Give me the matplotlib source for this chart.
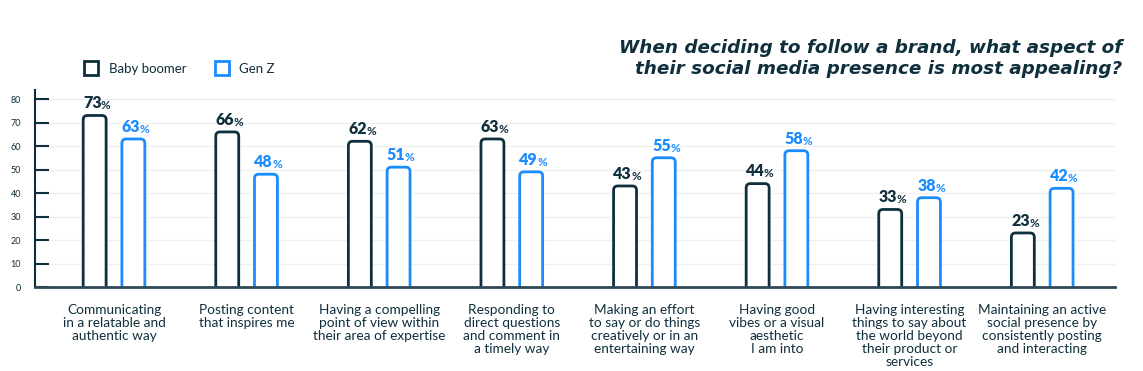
import matplotlib.pyplot as plt
from matplotlib.patches import FancyBboxPatch
from matplotlib.lines import Line2D
import numpy as np

categories = [
    'Communicating\nin a relatable and\nauthentic way',
    'Posting content\nthat inspires me',
    'Having a compelling\npoint of view within\ntheir area of expertise',
    'Responding to\ndirect questions\nand comment in\na timely way',
    'Making an effort\nto say or do things\ncreatively or in an\nentertaining way',
    'Having good\nvibes or a visual\naesthetic\nI am into',
    'Having interesting\nthings to say about\nthe world beyond\ntheir product or\nservices',
    'Maintaining an active\nsocial presence by\nconsistently posting\nand interacting',
]
baby_boomer = [73, 66, 62, 63, 43, 44, 33, 23]
gen_z = [63, 48, 51, 49, 55, 58, 38, 42]
series_names = ['Baby boomer', 'Gen Z']

navy = '#0f2f3d'
blue = '#1a8cff'
plt.rcParams['font.family'] = ['Lato', 'DejaVu Sans']

fig = plt.figure(figsize=(11.43, 3.71), dpi=100)
ax = fig.add_axes([0.0306, 0.2264, 0.9449, 0.532])

x = np.arange(len(categories))
off = 0.146
w = 0.173
xlim = (-0.596, 7.549)
ylim = (0, 84)
ax.set_xlim(*xlim)
ax.set_ylim(*ylim)

# aspect to get round tops in pixel space
bbox = ax.get_position()
px_w = bbox.width * 1143
px_h = bbox.height * 371
aspect = ((ylim[1] - ylim[0]) / px_h) / ((xlim[1] - xlim[0]) / px_w)

for vals, sign, col in [(baby_boomer, -1, navy), (gen_z, 1, blue)]:
    bars = ax.bar(x + sign * off, vals, width=w, color='none', edgecolor='none')
    for b, v in zip(bars, vals):
        p = FancyBboxPatch((b.get_x(), -3), b.get_width(), v + 3,
                           boxstyle='round,pad=0,rounding_size=0.032',
                           mutation_aspect=aspect, facecolor='white',
                           edgecolor=col, linewidth=2, zorder=3, clip_on=True)
        ax.add_patch(p)
        cx = b.get_x() + b.get_width() / 2
        ax.annotate(f'{v}', (cx, v), xytext=(5, 3), textcoords='offset points',
                    ha='right', va='bottom', fontsize=11.5, fontweight='heavy',
                    color=col)
        ax.annotate('%', (cx, v), xytext=(4.5, 3), textcoords='offset points',
                    ha='left', va='bottom', fontsize=8.5, fontweight='bold',
                    color=col)

ax.set_xticks(x)
ax.set_xticklabels(categories, fontsize=9.8, color=navy, linespacing=1.1)
ax.tick_params(axis='x', length=0, pad=12)
ax.set_yticks(range(0, 81, 10))
ax.tick_params(axis='y', direction='in', length=10, width=1.5, color=navy,
               labelsize=6.5, labelcolor=navy)
ax.yaxis.set_tick_params(pad=10)
ax.grid(axis='y', color='#f0f0f0', linewidth=1, zorder=0)
ax.set_axisbelow(True)
for s in ['top', 'right']:
    ax.spines[s].set_visible(False)
ax.spines['left'].set_color(navy)
ax.spines['left'].set_linewidth(1.5)
ax.spines['bottom'].set_color('#2f4a56')
ax.spines['bottom'].set_linewidth(2)
ax.spines['bottom'].set_zorder(4)

handles = [Line2D([], [], marker='s', linestyle='none', markersize=10,
                  markerfacecolor='white', markeredgecolor=c, markeredgewidth=2)
           for c in (navy, blue)]
fig.legend(handles, series_names, loc='center left', bbox_to_anchor=(0.058, 0.815),
           ncol=2, frameon=False, fontsize=9.5, handletextpad=0.3,
           columnspacing=1.7, labelcolor=navy)

fig.text(0.982, 0.843, 'When deciding to follow a brand, what aspect of\ntheir social media presence is most appealing?',
         ha='right', va='center', fontsize=13.2, fontweight='bold', style='italic',
         color=navy, linespacing=1.2, family=['DejaVu Sans'])

fig.savefig('out.png', dpi=100)
